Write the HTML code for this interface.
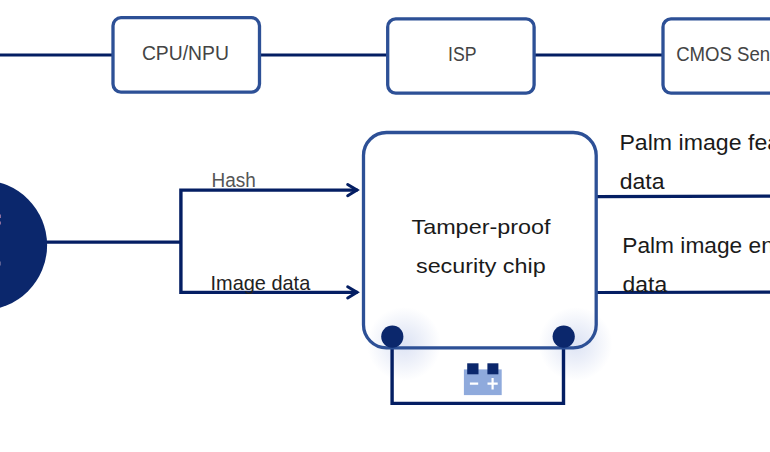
<!DOCTYPE html>
<html lang="en">
<head>
<meta charset="utf-8">
<title>Tamper-proof security chip diagram</title>
<style>
html,body{margin:0;padding:0;background:#fff;}
body{width:770px;height:452px;overflow:hidden;}
svg{display:block;}
text{font-family:"Liberation Sans",Arial,sans-serif;white-space:pre;}
</style>
</head>
<body>
<svg width="770" height="452" viewBox="0 0 770 452">
<defs>
<radialGradient id="glow" cx="50%" cy="50%" r="50%"><stop offset="0" stop-color="#4a6cc4" stop-opacity="0.19"/><stop offset="0.45" stop-color="#4a6cc4" stop-opacity="0.11"/><stop offset="1" stop-color="#4a6cc4" stop-opacity="0"/></radialGradient>
</defs>
<rect width="770" height="452" fill="#ffffff"/>
<circle cx="404" cy="344" r="37" fill="url(#glow)"/>
<circle cx="575.5" cy="344" r="37" fill="url(#glow)"/>
<g stroke="#041e63" stroke-width="3.2" fill="none">
<path d="M0 55H113M259.5 55H387.7M534.1 55H663"/>
<path d="M40 242.2H181"/>
<path d="M357.6 190.1H180.9V292.35H357.6" stroke-linejoin="miter" stroke-width="3.4"/>
<path d="M347.7 184.5L357 190.1L347.7 195.7" stroke-width="3" stroke-linecap="round"/>
<path d="M347.7 286.75L357 292.35L347.7 297.95" stroke-width="3" stroke-linecap="round"/>
<path d="M596.2 196.6L770 196.05M596.2 292.5L770 292.1"/>
<path d="M392.1 337V403.4H563.5V337" stroke-width="3.4"/>
</g>
<g stroke="#2d5096" stroke-width="3.3" fill="#ffffff">
<rect x="113" y="17.7" width="146.5" height="74.4" rx="8" ry="8"/>
<rect x="387.7" y="18.9" width="146.4" height="74.2" rx="8" ry="8"/>
<rect x="663" y="18.9" width="160" height="74.2" rx="8" ry="8"/>
</g>
<rect x="363.5" y="132.5" width="232.7" height="215.3" rx="23" ry="23" stroke="#2d5096" stroke-width="3.3" fill="none"/>
<circle cx="-18" cy="245.2" r="65.1" fill="#0b276c"/>
<rect x="0" y="214.5" width="1" height="3.5" fill="#c48fb4" opacity="0.7"/>
<rect x="0" y="221.5" width="1" height="3" fill="#c48fb4" opacity="0.7"/>
<rect x="0" y="261.5" width="1" height="4" fill="#8f86ac" opacity="0.6"/>
<circle cx="392.3" cy="336.6" r="11.1" fill="#0b276c"/>
<circle cx="563.7" cy="336.6" r="11.1" fill="#0b276c"/>
<rect x="463.9" y="369.4" width="37.8" height="25.7" fill="#8faadc"/>
<rect x="467.2" y="363.3" width="11.3" height="11" fill="#0b276c"/>
<rect x="487.4" y="363.3" width="11" height="11" fill="#0b276c"/>
<path d="M469.9 383.65H478.2M487.5 383.65H497.7M492.6 377.9V389.5" stroke="#ffffff" stroke-width="2.2" fill="none"/>
<text transform="translate(141.90 60.3) scale(1.0000 1)" font-size="19.34" fill="#444444">CPU/NPU</text>
<text transform="translate(448.00 60.6) scale(0.9133 1)" font-size="19.34" fill="#444444">ISP</text>
<text transform="translate(676.14 60.8) scale(0.9625 1)" font-size="19.34" fill="#444444">CMOS Sensor</text>
<text transform="translate(211.44 187.4) scale(0.9708 1)" font-size="19.55" fill="#555555">Hash</text>
<text transform="translate(210.52 289.9) scale(1.0198 1)" font-size="19.55" fill="#222222">Image data</text>
<text transform="translate(411.45 233.7) scale(1.1088 1)" font-size="21.11" fill="#1a1a1a">Tamper-proof</text>
<text transform="translate(415.97 272.6) scale(1.1058 1)" font-size="21.11" fill="#1a1a1a">security chip</text>
<text transform="translate(619.40 150.1) scale(1.0302 1)" font-size="22.46" fill="#1a1a1a">Palm image feature</text>
<text transform="translate(619.78 188.6) scale(1.0246 1)" font-size="22.46" fill="#1a1a1a">data</text>
<text transform="translate(622.23 253.3) scale(1.0126 1)" font-size="22.46" fill="#1a1a1a">Palm image encrypted</text>
<text transform="translate(622.58 291.9) scale(1.0199 1)" font-size="22.46" fill="#1a1a1a">data</text>
</svg>
</body>
</html>
